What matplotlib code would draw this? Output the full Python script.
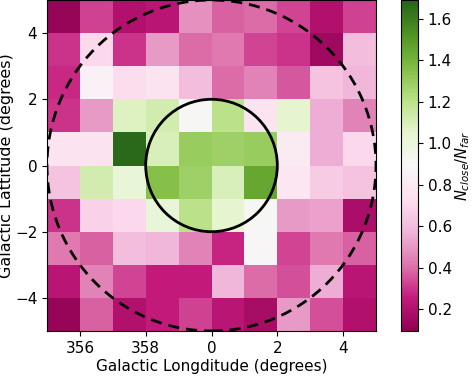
import matplotlib
matplotlib.use("Agg")
import matplotlib.pyplot as plt
import numpy as np
from matplotlib.patches import Circle

# cell edges in degrees (longitude offset from 0, latitude)
lon_edges = np.arange(-5, 6, 1)
lat_edges = np.arange(-5, 6, 1)

# N_close / N_far per 1x1 degree cell, rows from bottom (b=-5) to top (b=+5)
ratio = np.array([
    [0.12, 0.38, 0.20, 0.25, 0.32, 0.22, 0.17, 0.50, 0.35, 0.20],
    [0.22, 0.45, 0.33, 0.25, 0.25, 0.58, 0.40, 0.35, 0.55, 0.22],
    [0.42, 0.38, 0.60, 0.58, 0.45, 0.27, 0.88, 0.33, 0.42, 0.38],
    [0.30, 0.68, 0.70, 1.02, 1.20, 1.05, 0.90, 0.50, 0.52, 0.18],
    [0.62, 1.12, 1.02, 1.35, 1.28, 1.10, 1.45, 0.78, 0.65, 0.62],
    [0.75, 0.75, 1.67, 1.10, 1.30, 1.28, 1.30, 0.80, 0.55, 0.70],
    [0.30, 0.50, 1.08, 1.12, 0.90, 1.20, 0.75, 1.05, 0.55, 0.45],
    [0.28, 0.85, 0.72, 0.75, 0.60, 0.40, 0.45, 0.36, 0.62, 0.58],
    [0.30, 0.70, 0.30, 0.50, 0.40, 0.42, 0.33, 0.30, 0.15, 0.60],
    [0.12, 0.32, 0.20, 0.22, 0.48, 0.38, 0.40, 0.33, 0.20, 0.32],
])

x_ticks = [-4, -2, 0, 2, 4]
x_tick_labels = ["356", "358", "0", "2", "4"]
y_ticks = [-4, -2, 0, 2, 4]

inner_radius = 2.0
outer_radius = 5.0

fig = plt.figure(figsize=(4.74, 3.78), dpi=100)
ax = fig.add_axes([47 / 474, 47 / 378, 329 / 474, 331 / 378])
cax = fig.add_axes([401 / 474, 47 / 378, 17 / 474, 331 / 378])

mesh = ax.pcolormesh(lon_edges, lat_edges, ratio, cmap="PiYG", vmin=0.095, vmax=1.69)
ax.add_patch(Circle((0, 0), outer_radius, fill=False, color="black", lw=2, ls=(0, (4, 2.5))))
ax.add_patch(Circle((0, 0), inner_radius, fill=False, color="black", lw=2))

ax.set_xlim(-5, 5)
ax.set_ylim(-5, 5)
ax.set_xticks(x_ticks)
ax.set_xticklabels(x_tick_labels)
ax.set_yticks(y_ticks)
ax.tick_params(labelsize=11)
ax.set_xlabel("Galactic Longditude (degrees)", fontsize=11, labelpad=2)
ax.set_ylabel("Galactic Lattitude (degrees)", fontsize=11.5, labelpad=1)

cb = fig.colorbar(mesh, cax=cax)
cb.set_ticks([0.2, 0.4, 0.6, 0.8, 1.0, 1.2, 1.4, 1.6])
cb.ax.tick_params(labelsize=11)
cb.set_label("$N_{close}/N_{far}$", fontsize=10.5, labelpad=1)

fig.savefig("out.png", dpi=100)
